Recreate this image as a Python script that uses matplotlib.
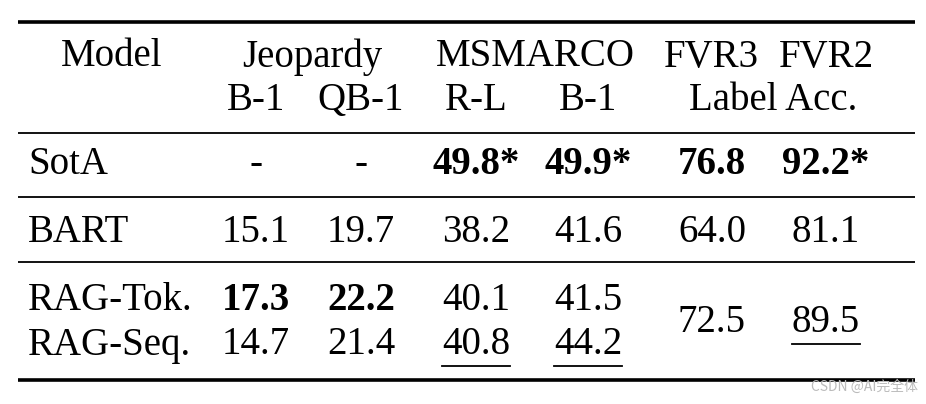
import matplotlib
matplotlib.use("Agg")
import matplotlib.pyplot as plt

W, H = 926, 404
models = ["SotA", "BART", "RAG-Tok.", "RAG-Seq."]
groups = ["Jeopardy", "MSMARCO", "FVR3", "FVR2"]
subcols = ["B-1", "QB-1", "R-L", "B-1"]
sota = ["-", "-", "49.8*", "49.9*", "76.8", "92.2*"]
bart = ["15.1", "19.7", "38.2", "41.6", "64.0", "81.1"]
ragtok = ["17.3", "22.2", "40.1", "41.5"]
ragseq = ["14.7", "21.4", "40.8", "44.2"]
rag_fever = ["72.5", "89.5"]

fig = plt.figure(figsize=(W/100, H/100), dpi=100)
ax = fig.add_axes([0, 0, 1, 1])
ax.set_xlim(0, W); ax.set_ylim(H, 0); ax.axis("off")
FS = 28
F = dict(family="Liberation Serif", fontsize=FS, va="center")

def t(x, y, s, ha="center", bold=False, under=False):
    txt = ax.text(x, y, s, ha=ha, fontweight="bold" if bold else "normal", **F)
    if under:
        fig.canvas.draw()
        bb = txt.get_window_extent().transformed(ax.transData.inverted())
        ax.plot([bb.x0, bb.x1], [y + 21, y + 21], color="black", lw=1.3)

for y, lw in [(22, 2.6), (133, 1.3), (197, 1.3), (262, 1.3), (380, 2.6)]:
    ax.plot([18, 915], [y, y], color="black", lw=lw, solid_capstyle="butt")

xs = [256, 361, 476, 588, 712, 826]
t(112, 57, "Model")
for x, g in zip([312, 535, 711, 826], groups):
    t(x, 57, g)
for x, s in zip(xs[:4], subcols):
    t(x, 100, s)
t(773, 100, "Label Acc.")

t(28, 165, models[0], ha="left")
for x, s in zip(xs, sota):
    t(x, 165, s, bold=s not in ("-",))
t(28, 233, models[1], ha="left")
for x, s in zip(xs, bart):
    t(x, 233, s)
t(28, 300, models[2], ha="left")
for i, (x, s) in enumerate(zip(xs[:4], ragtok)):
    t(x, 300, s, bold=i < 2)
t(28, 345, models[3], ha="left")
for i, (x, s) in enumerate(zip(xs[:4], ragseq)):
    t(x, 345, s, under=i >= 2)
t(xs[4], 323, rag_fever[0])
t(xs[5], 323, rag_fever[1], under=True)

ax.text(918, 387, "CSDN @AI完全体", ha="right", va="center", fontsize=10,
        color="#bbbbbb", family=["Noto Sans CJK SC", "DejaVu Sans"])
fig.savefig("out.png", dpi=100)
